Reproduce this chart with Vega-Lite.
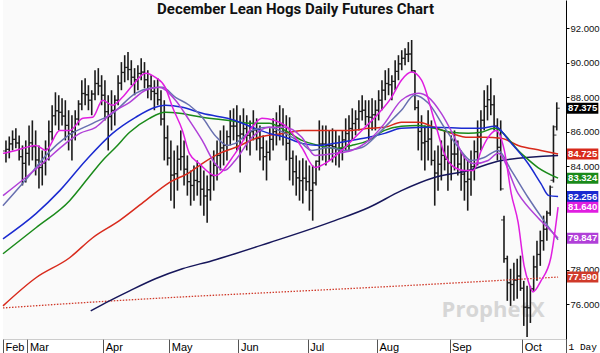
{
"$schema": "https://vega.github.io/schema/vega-lite/v6.json",
"width": 563, "height": 339, "padding": 0,
"background": "#ffffff",
"view": {"stroke": null, "fill": "#fafafa"},
"title": {"text": "December Lean Hogs Daily Futures Chart", "font": "Roboto", "fontSize": 15, "fontWeight": "bold", "color": "#111111", "anchor": "middle", "frame": "bounds", "offset": -17, "dx": -4},
"datasets": {
"bars": [
{"i":0,"o":84.9,"h":85.51,"l":84.23,"c":84.99},{"i":1,"o":84.99,"h":85.74,"l":84.47,"c":85.31},{"i":2,"o":85.31,"h":86.09,"l":84.93,"c":85.57},{"i":3,"o":85.57,"h":86.21,"l":85.05,"c":85.36},{"i":4,"o":85.36,"h":85.8,"l":84.35,"c":84.57},{"i":5,"o":84.57,"h":85.22,"l":82.9,"c":84.18},{"i":6,"o":84.18,"h":85.51,"l":83.07,"c":84.76},{"i":7,"o":84.76,"h":86.38,"l":84.06,"c":85.37},{"i":8,"o":85.37,"h":86.67,"l":84.35,"c":85.15},{"i":9,"o":85.15,"h":86.09,"l":83.48,"c":84.38},
{"i":10,"o":84.38,"h":85.22,"l":82.72,"c":83.94},{"i":11,"o":83.94,"h":84.93,"l":82.9,"c":84.2},{"i":12,"o":84.2,"h":85.51,"l":83.48,"c":85.0},{"i":13,"o":85.0,"h":86.67,"l":84.35,"c":86.02},{"i":14,"o":86.02,"h":87.55,"l":85.51,"c":86.94},{"i":15,"o":86.94,"h":88.3,"l":86.38,"c":87.23},{"i":16,"o":87.23,"h":88.13,"l":86.09,"c":87.14},{"i":17,"o":87.14,"h":87.95,"l":86.38,"c":86.92},{"i":18,"o":86.92,"h":87.84,"l":85.51,"c":86.38},{"i":19,"o":86.38,"h":87.26,"l":84.93,"c":85.88},
{"i":20,"o":85.88,"h":86.97,"l":84.35,"c":86.02},{"i":21,"o":86.02,"h":87.26,"l":85.51,"c":86.75},{"i":22,"o":86.75,"h":87.84,"l":86.38,"c":87.62},{"i":23,"o":87.62,"h":89.0,"l":87.26,"c":88.23},{"i":24,"o":88.23,"h":89.12,"l":87.55,"c":88.16},{"i":25,"o":88.16,"h":88.71,"l":87.26,"c":87.84},{"i":26,"o":87.84,"h":88.42,"l":86.97,"c":88.2},{"i":27,"o":88.2,"h":89.58,"l":87.84,"c":88.81},{"i":28,"o":88.81,"h":89.7,"l":88.13,"c":88.67},{"i":29,"o":88.67,"h":89.29,"l":87.55,"c":88.13},
{"i":30,"o":88.13,"h":89.0,"l":86.67,"c":87.18},{"i":31,"o":87.18,"h":88.13,"l":84.93,"c":86.89},{"i":32,"o":86.89,"h":88.42,"l":86.09,"c":87.25},{"i":33,"o":87.25,"h":88.13,"l":86.38,"c":87.84},{"i":34,"o":87.84,"h":89.29,"l":87.55,"c":88.83},{"i":35,"o":88.83,"h":90.05,"l":88.42,"c":89.45},{"i":36,"o":89.45,"h":90.45,"l":88.88,"c":89.74},{"i":37,"o":89.74,"h":90.63,"l":89.0,"c":89.62},{"i":38,"o":89.62,"h":90.16,"l":88.71,"c":89.17},{"i":39,"o":89.17,"h":89.7,"l":88.13,"c":89.03},
{"i":40,"o":89.03,"h":89.87,"l":88.42,"c":89.39},{"i":41,"o":89.39,"h":90.28,"l":89.0,"c":89.47},{"i":42,"o":89.47,"h":90.05,"l":88.53,"c":89.03},{"i":43,"o":89.03,"h":89.58,"l":87.95,"c":88.67},{"i":44,"o":88.67,"h":89.29,"l":87.84,"c":88.35},{"i":45,"o":88.35,"h":89.0,"l":87.26,"c":88.23},{"i":46,"o":88.23,"h":89.12,"l":87.55,"c":87.87},{"i":47,"o":87.87,"h":88.42,"l":86.38,"c":86.75},{"i":48,"o":86.75,"h":87.84,"l":84.35,"c":85.66},{"i":49,"o":85.66,"h":86.38,"l":84.06,"c":84.49},
{"i":50,"o":84.49,"h":85.51,"l":82.02,"c":83.5},{"i":51,"o":83.5,"h":84.93,"l":81.56,"c":83.58},{"i":52,"o":83.58,"h":85.22,"l":82.6,"c":84.42},{"i":53,"o":84.42,"h":86.09,"l":83.77,"c":84.57},{"i":54,"o":84.57,"h":85.51,"l":82.9,"c":83.84},{"i":55,"o":83.84,"h":84.64,"l":82.31,"c":83.12},{"i":56,"o":83.12,"h":83.77,"l":81.73,"c":82.9},{"i":57,"o":82.9,"h":84.06,"l":82.02,"c":83.19},{"i":58,"o":83.19,"h":84.35,"l":82.31,"c":83.12},{"i":59,"o":83.12,"h":84.06,"l":81.73,"c":82.68},
{"i":60,"o":82.68,"h":83.77,"l":81.15,"c":82.29},{"i":61,"o":82.29,"h":83.48,"l":80.74,"c":82.65},{"i":62,"o":82.65,"h":84.35,"l":82.02,"c":83.47},{"i":63,"o":83.47,"h":84.93,"l":82.6,"c":84.06},{"i":64,"o":84.06,"h":85.51,"l":83.19,"c":84.64},{"i":65,"o":84.64,"h":86.09,"l":83.77,"c":85.08},{"i":66,"o":85.08,"h":86.38,"l":84.06,"c":85.22},{"i":67,"o":85.22,"h":86.09,"l":84.35,"c":85.73},{"i":68,"o":85.73,"h":87.26,"l":85.22,"c":86.34},{"i":69,"o":86.34,"h":87.37,"l":85.51,"c":86.34},
{"i":70,"o":86.34,"h":87.55,"l":84.93,"c":85.78},{"i":71,"o":85.78,"h":86.97,"l":83.65,"c":85.88},{"i":72,"o":85.88,"h":87.37,"l":85.51,"c":86.2},{"i":73,"o":86.2,"h":86.97,"l":84.93,"c":85.81},{"i":74,"o":85.81,"h":86.67,"l":84.64,"c":86.02},{"i":75,"o":86.02,"h":87.26,"l":85.51,"c":86.12},{"i":76,"o":86.12,"h":86.79,"l":84.93,"c":85.62},{"i":77,"o":85.62,"h":86.38,"l":84.35,"c":85.08},{"i":78,"o":85.08,"h":85.8,"l":83.77,"c":84.57},{"i":79,"o":84.57,"h":85.51,"l":83.19,"c":84.82},
{"i":80,"o":84.82,"h":86.21,"l":84.35,"c":85.57},{"i":81,"o":85.57,"h":86.79,"l":84.93,"c":86.02},{"i":82,"o":86.02,"h":87.14,"l":85.22,"c":86.36},{"i":83,"o":86.36,"h":87.55,"l":85.51,"c":86.41},{"i":84,"o":86.41,"h":87.37,"l":85.22,"c":85.98},{"i":85,"o":85.98,"h":86.97,"l":84.35,"c":85.34},{"i":86,"o":85.34,"h":86.85,"l":83.19,"c":84.47},{"i":87,"o":84.47,"h":84.93,"l":82.9,"c":83.7},{"i":88,"o":83.7,"h":84.64,"l":82.31,"c":83.34},{"i":89,"o":83.34,"h":84.35,"l":82.02,"c":83.18},
{"i":90,"o":83.18,"h":84.47,"l":81.85,"c":83.32},{"i":91,"o":83.32,"h":84.35,"l":82.6,"c":83.12},{"i":92,"o":83.12,"h":84.06,"l":81.44,"c":82.61},{"i":93,"o":82.61,"h":84.06,"l":80.86,"c":83.05},{"i":94,"o":83.05,"h":84.35,"l":82.9,"c":84.3},{"i":95,"o":84.3,"h":86.67,"l":83.77,"c":85.3},{"i":96,"o":85.3,"h":86.38,"l":84.35,"c":85.3},{"i":97,"o":85.3,"h":86.38,"l":84.06,"c":85.22},{"i":98,"o":85.22,"h":86.09,"l":84.35,"c":85.22},{"i":99,"o":85.22,"h":86.21,"l":84.23,"c":85.15},
{"i":100,"o":85.15,"h":86.09,"l":84.06,"c":84.98},{"i":101,"o":84.98,"h":85.8,"l":83.94,"c":85.05},{"i":102,"o":85.05,"h":86.09,"l":84.35,"c":85.54},{"i":103,"o":85.54,"h":86.79,"l":84.93,"c":85.91},{"i":104,"o":85.91,"h":86.97,"l":84.93,"c":86.2},{"i":105,"o":86.2,"h":87.37,"l":85.51,"c":86.49},{"i":106,"o":86.49,"h":87.26,"l":85.8,"c":86.75},{"i":107,"o":86.75,"h":87.84,"l":86.09,"c":87.19},{"i":108,"o":87.19,"h":88.13,"l":86.67,"c":87.26},{"i":109,"o":87.26,"h":87.84,"l":86.38,"c":86.89},
{"i":110,"o":86.89,"h":87.84,"l":85.51,"c":86.85},{"i":111,"o":86.85,"h":87.95,"l":86.09,"c":87.0},{"i":112,"o":87.0,"h":87.84,"l":86.09,"c":87.26},{"i":113,"o":87.26,"h":88.42,"l":86.67,"c":87.84},{"i":114,"o":87.84,"h":89.0,"l":87.26,"c":88.42},{"i":115,"o":88.42,"h":89.58,"l":87.84,"c":88.81},{"i":116,"o":88.81,"h":89.7,"l":88.13,"c":88.74},{"i":117,"o":88.74,"h":89.29,"l":87.84,"c":88.93},{"i":118,"o":88.93,"h":90.16,"l":88.42,"c":89.51},{"i":119,"o":89.51,"h":90.45,"l":89.0,"c":89.95},
{"i":120,"o":89.95,"h":90.74,"l":89.58,"c":90.27},{"i":121,"o":90.27,"h":90.86,"l":89.87,"c":90.5},{"i":122,"o":90.5,"h":91.21,"l":90.05,"c":90.52},{"i":123,"o":90.52,"h":91.33,"l":89.47,"c":89.55},{"i":124,"o":89.55,"h":89.58,"l":87.26,"c":87.41},{"i":125,"o":87.41,"h":87.84,"l":84.93,"c":86.03},{"i":126,"o":86.03,"h":86.97,"l":84.35,"c":85.37},{"i":127,"o":85.37,"h":86.38,"l":83.77,"c":85.45},{"i":128,"o":85.45,"h":87.26,"l":84.35,"c":85.59},{"i":129,"o":85.59,"h":86.67,"l":84.06,"c":84.35},
{"i":130,"o":84.35,"h":84.93,"l":81.73,"c":83.62},{"i":131,"o":83.62,"h":85.22,"l":82.6,"c":84.13},{"i":132,"o":84.13,"h":85.51,"l":83.19,"c":84.64},{"i":133,"o":84.64,"h":86.09,"l":83.77,"c":84.42},{"i":134,"o":84.42,"h":85.22,"l":82.6,"c":84.21},{"i":135,"o":84.21,"h":85.8,"l":83.19,"c":84.72},{"i":136,"o":84.72,"h":86.09,"l":83.77,"c":84.72},{"i":137,"o":84.72,"h":85.51,"l":83.48,"c":84.14},{"i":138,"o":84.14,"h":84.93,"l":82.6,"c":83.55},{"i":139,"o":83.55,"h":84.64,"l":82.02,"c":83.12},
{"i":140,"o":83.12,"h":84.35,"l":81.44,"c":83.26},{"i":141,"o":83.26,"h":84.93,"l":82.31,"c":83.99},{"i":142,"o":83.99,"h":85.51,"l":83.19,"c":84.86},{"i":143,"o":84.86,"h":86.67,"l":84.06,"c":85.74},{"i":144,"o":85.74,"h":87.26,"l":84.93,"c":86.68},{"i":145,"o":86.68,"h":88.42,"l":86.09,"c":87.48},{"i":146,"o":87.48,"h":88.71,"l":86.67,"c":87.87},{"i":147,"o":87.87,"h":89.12,"l":86.97,"c":87.58},{"i":148,"o":87.58,"h":88.13,"l":86.09,"c":86.34},{"i":149,"o":86.34,"h":86.79,"l":84.35,"c":85.11},
{"i":150,"o":85.11,"h":86.67,"l":82.6,"c":82.7},{"i":151,"o":80.9,"h":81.15,"l":78.42,"c":78.66},{"i":152,"o":78.66,"h":78.83,"l":76.21,"c":77.26},{"i":153,"o":77.26,"h":78.07,"l":75.92,"c":77.16},{"i":154,"o":77.16,"h":78.42,"l":76.21,"c":77.41},{"i":155,"o":77.41,"h":78.65,"l":76.33,"c":77.65},{"i":156,"o":77.65,"h":78.83,"l":76.79,"c":76.94},{"i":157,"o":76.94,"h":77.37,"l":74.76,"c":75.84},{"i":158,"o":75.84,"h":77.08,"l":74.12,"c":75.81},{"i":159,"o":75.81,"h":77.08,"l":74.93,"c":76.91},
{"i":160,"o":76.91,"h":78.83,"l":76.79,"c":78.18},{"i":161,"o":78.18,"h":79.7,"l":77.37,"c":78.9},{"i":162,"o":78.9,"h":80.28,"l":78.24,"c":79.7},{"i":163,"o":79.7,"h":81.15,"l":79.12,"c":80.36},{"i":164,"o":80.36,"h":81.44,"l":79.7,"c":81.3},{"i":165,"o":81.3,"h":82.9,"l":81.15,"c":82.8},{"i":166,"o":83.2,"h":86.38,"l":83.07,"c":85.82},{"i":167,"o":86.3,"h":87.72,"l":86.09,"c":87.375}
],
"ma": [
{"s":"M7","i":25.7,"v":75.63},{"s":"M7","i":31.4,"v":76.21},{"s":"M7","i":37.5,"v":76.79},{"s":"M7","i":45.3,"v":77.49},{"s":"M7","i":53.5,"v":78.07},{"s":"M7","i":62.5,"v":78.54},{"s":"M7","i":79.8,"v":79.58},{"s":"M7","i":99.7,"v":80.86},{"s":"M7","i":110.0,"v":81.62},{"s":"M7","i":119.9,"v":82.6},{"s":"M7","i":129.9,"v":83.36},{"s":"M7","i":140.2,"v":83.77},{"s":"M7","i":150.2,"v":84.35},{"s":"M7","i":167.4,"v":84.64},
{"s":"M6","i":-0.9,"v":75.92},{"s":"M6","i":9.1,"v":77.55},{"s":"M6","i":19.3,"v":78.71},{"s":"M6","i":26.3,"v":79.87},{"s":"M6","i":34.4,"v":80.86},{"s":"M6","i":42.3,"v":82.02},{"s":"M6","i":49.5,"v":83.07},{"s":"M6","i":55.6,"v":83.65},{"s":"M6","i":59.5,"v":84.17},{"s":"M6","i":64.7,"v":84.76},{"s":"M6","i":69.5,"v":85.1},{"s":"M6","i":76.7,"v":85.69},{"s":"M6","i":84.6,"v":85.92},{"s":"M6","i":89.7,"v":86.09},{"s":"M6","i":99.7,"v":86.09},{"s":"M6","i":104.8,"v":86.09},{"s":"M6","i":110.0,"v":86.21},{"s":"M6","i":114.8,"v":86.27},{"s":"M6","i":119.9,"v":86.56},{"s":"M6","i":125.1,"v":86.56},{"s":"M6","i":129.9,"v":86.27},{"s":"M6","i":135.0,"v":85.92},{"s":"M6","i":140.2,"v":85.69},{"s":"M6","i":145.0,"v":85.69},{"s":"M6","i":150.2,"v":85.63},{"s":"M6","i":155.3,"v":85.22},{"s":"M6","i":162.2,"v":84.93},{"s":"M6","i":167.4,"v":84.725},
{"s":"M5","i":-0.9,"v":78.94},{"s":"M5","i":9.1,"v":80.45},{"s":"M5","i":19.3,"v":82.02},{"s":"M5","i":24.8,"v":83.3},{"s":"M5","i":29.3,"v":84.35},{"s":"M5","i":33.2,"v":85.1},{"s":"M5","i":37.5,"v":85.98},{"s":"M5","i":43.5,"v":86.79},{"s":"M5","i":48.3,"v":87.14},{"s":"M5","i":52.6,"v":87.08},{"s":"M5","i":59.5,"v":86.85},{"s":"M5","i":67.7,"v":86.67},{"s":"M5","i":74.6,"v":86.5},{"s":"M5","i":79.8,"v":86.5},{"s":"M5","i":84.6,"v":86.09},{"s":"M5","i":89.7,"v":85.51},{"s":"M5","i":94.9,"v":85.22},{"s":"M5","i":99.7,"v":85.05},{"s":"M5","i":104.8,"v":85.22},{"s":"M5","i":110.0,"v":85.51},{"s":"M5","i":114.8,"v":86.09},{"s":"M5","i":119.9,"v":86.33},{"s":"M5","i":125.1,"v":86.38},{"s":"M5","i":129.9,"v":86.21},{"s":"M5","i":135.0,"v":85.98},{"s":"M5","i":140.2,"v":85.92},{"s":"M5","i":144.1,"v":85.98},{"s":"M5","i":148.0,"v":86.21},{"s":"M5","i":156.2,"v":84.76},{"s":"M5","i":161.3,"v":83.94},{"s":"M5","i":167.4,"v":83.324},
{"s":"M4","i":-0.9,"v":79.81},{"s":"M4","i":9.1,"v":81.27},{"s":"M4","i":16.3,"v":82.6},{"s":"M4","i":24.2,"v":84.35},{"s":"M4","i":32.3,"v":85.92},{"s":"M4","i":39.3,"v":86.85},{"s":"M4","i":45.3,"v":87.43},{"s":"M4","i":48.3,"v":87.55},{"s":"M4","i":53.5,"v":87.43},{"s":"M4","i":59.5,"v":87.08},{"s":"M4","i":69.5,"v":86.67},{"s":"M4","i":74.6,"v":86.27},{"s":"M4","i":79.8,"v":85.92},{"s":"M4","i":84.6,"v":85.69},{"s":"M4","i":89.7,"v":85.34},{"s":"M4","i":94.9,"v":85.22},{"s":"M4","i":99.7,"v":85.34},{"s":"M4","i":104.8,"v":85.51},{"s":"M4","i":110.0,"v":85.69},{"s":"M4","i":114.8,"v":85.92},{"s":"M4","i":119.9,"v":86.21},{"s":"M4","i":129.9,"v":86.27},{"s":"M4","i":140.2,"v":86.21},{"s":"M4","i":144.1,"v":86.21},{"s":"M4","i":148.0,"v":86.33},{"s":"M4","i":153.2,"v":85.34},{"s":"M4","i":158.3,"v":84.17},{"s":"M4","i":162.2,"v":83.01},{"s":"M4","i":164.6,"v":82.31},{"s":"M4","i":167.4,"v":82.256},
{"s":"M3","i":-0.9,"v":81.73},{"s":"M3","i":6.6,"v":83.36},{"s":"M3","i":12.7,"v":84.76},{"s":"M3","i":18.1,"v":85.69},{"s":"M3","i":26.3,"v":86.5},{"s":"M3","i":32.3,"v":87.08},{"s":"M3","i":39.3,"v":88.24},{"s":"M3","i":43.5,"v":88.53},{"s":"M3","i":47.4,"v":88.59},{"s":"M3","i":51.4,"v":88.01},{"s":"M3","i":55.6,"v":87.55},{"s":"M3","i":59.5,"v":86.85},{"s":"M3","i":63.4,"v":85.8},{"s":"M3","i":67.1,"v":85.22},{"s":"M3","i":69.5,"v":85.34},{"s":"M3","i":74.6,"v":86.09},{"s":"M3","i":79.8,"v":86.27},{"s":"M3","i":84.6,"v":85.92},{"s":"M3","i":89.7,"v":85.34},{"s":"M3","i":92.7,"v":84.93},{"s":"M3","i":97.9,"v":85.1},{"s":"M3","i":102.7,"v":84.93},{"s":"M3","i":107.9,"v":85.1},{"s":"M3","i":113.0,"v":85.92},{"s":"M3","i":117.8,"v":86.85},{"s":"M3","i":119.9,"v":87.26},{"s":"M3","i":123.9,"v":88.13},{"s":"M3","i":128.1,"v":87.66},{"s":"M3","i":132.9,"v":86.27},{"s":"M3","i":137.2,"v":85.1},{"s":"M3","i":141.1,"v":84.35},{"s":"M3","i":145.0,"v":84.52},{"s":"M3","i":149.2,"v":84.93},{"s":"M3","i":153.2,"v":83.77},{"s":"M3","i":158.3,"v":82.2},{"s":"M3","i":163.1,"v":80.86},{"s":"M3","i":167.4,"v":79.75},
{"s":"M2","i":-0.9,"v":82.31},{"s":"M2","i":6.0,"v":83.36},{"s":"M2","i":12.1,"v":84.35},{"s":"M2","i":18.1,"v":85.34},{"s":"M2","i":22.4,"v":85.92},{"s":"M2","i":27.2,"v":86.27},{"s":"M2","i":32.3,"v":87.14},{"s":"M2","i":37.5,"v":87.72},{"s":"M2","i":42.3,"v":88.42},{"s":"M2","i":46.5,"v":88.59},{"s":"M2","i":51.4,"v":87.84},{"s":"M2","i":55.6,"v":86.67},{"s":"M2","i":59.5,"v":85.51},{"s":"M2","i":63.4,"v":84.17},{"s":"M2","i":66.2,"v":83.77},{"s":"M2","i":69.5,"v":84.35},{"s":"M2","i":74.6,"v":85.69},{"s":"M2","i":79.8,"v":86.27},{"s":"M2","i":84.6,"v":86.27},{"s":"M2","i":89.7,"v":85.69},{"s":"M2","i":93.7,"v":84.64},{"s":"M2","i":99.7,"v":84.76},{"s":"M2","i":104.8,"v":84.93},{"s":"M2","i":110.0,"v":85.51},{"s":"M2","i":114.8,"v":86.5},{"s":"M2","i":119.9,"v":87.84},{"s":"M2","i":125.1,"v":88.24},{"s":"M2","i":128.1,"v":88.01},{"s":"M2","i":132.0,"v":87.08},{"s":"M2","i":136.0,"v":85.69},{"s":"M2","i":139.0,"v":84.52},{"s":"M2","i":142.0,"v":84.17},{"s":"M2","i":146.2,"v":84.35},{"s":"M2","i":149.2,"v":84.76},{"s":"M2","i":155.3,"v":82.43},{"s":"M2","i":161.3,"v":81.03},{"s":"M2","i":165.2,"v":80.28},{"s":"M2","i":167.4,"v":79.85},
{"s":"M1","i":-0.9,"v":84.76},{"s":"M1","i":3.0,"v":84.93},{"s":"M1","i":9.1,"v":85.22},{"s":"M1","i":12.1,"v":84.93},{"s":"M1","i":16.3,"v":86.09},{"s":"M1","i":19.3,"v":86.09},{"s":"M1","i":23.3,"v":86.79},{"s":"M1","i":26.3,"v":86.85},{"s":"M1","i":29.3,"v":87.84},{"s":"M1","i":32.3,"v":87.55},{"s":"M1","i":35.3,"v":88.01},{"s":"M1","i":38.4,"v":88.71},{"s":"M1","i":42.3,"v":89.41},{"s":"M1","i":45.3,"v":89.17},{"s":"M1","i":48.3,"v":88.59},{"s":"M1","i":50.5,"v":87.43},{"s":"M1","i":53.5,"v":86.09},{"s":"M1","i":55.6,"v":84.76},{"s":"M1","i":58.6,"v":84.17},{"s":"M1","i":63.4,"v":83.48},{"s":"M1","i":69.5,"v":84.76},{"s":"M1","i":74.6,"v":86.27},{"s":"M1","i":77.6,"v":86.79},{"s":"M1","i":84.6,"v":86.38},{"s":"M1","i":89.7,"v":85.1},{"s":"M1","i":93.7,"v":83.94},{"s":"M1","i":96.7,"v":84.17},{"s":"M1","i":101.8,"v":84.93},{"s":"M1","i":107.9,"v":86.09},{"s":"M1","i":113.0,"v":87.08},{"s":"M1","i":116.9,"v":88.01},{"s":"M1","i":119.9,"v":89.0},{"s":"M1","i":123.0,"v":89.47},{"s":"M1","i":126.0,"v":89.0},{"s":"M1","i":129.9,"v":86.67},{"s":"M1","i":132.9,"v":84.76},{"s":"M1","i":136.0,"v":83.94},{"s":"M1","i":139.0,"v":83.77},{"s":"M1","i":141.7,"v":83.77},{"s":"M1","i":144.1,"v":84.93},{"s":"M1","i":146.2,"v":85.69},{"s":"M1","i":148.6,"v":86.09},{"s":"M1","i":151.1,"v":84.93},{"s":"M1","i":153.2,"v":82.43},{"s":"M1","i":155.3,"v":80.74},{"s":"M1","i":157.1,"v":78.24},{"s":"M1","i":158.6,"v":77.2},{"s":"M1","i":159.8,"v":76.73},{"s":"M1","i":162.2,"v":77.37},{"s":"M1","i":165.2,"v":78.71},{"s":"M1","i":167.4,"v":81.64}
],
"dot": [
{"s":"M8","i":-0.9,"v":75.8},{"s":"M8","i":17.2,"v":76.03},{"s":"M8","i":59.5,"v":76.5},{"s":"M8","i":77.6,"v":76.67},{"s":"M8","i":119.9,"v":77.08},{"s":"M8","i":167.4,"v":77.59}
],
"tags": [
{"s":"Last","v":87.375},{"s":"M6","v":84.725},{"s":"M5","v":83.324},{"s":"M4","v":82.256},{"s":"M1","v":81.64},{"s":"M2","v":79.847},{"s":"M8","v":77.59}
],
"marks": [
{"t":"ProphetX","i":147.7,"v":75.69}
]
},
"layer": [
{
"data": {"name": "marks"},
"mark": {"type": "text", "font": "Open Sans", "fontSize": 22, "fontWeight": "bold", "fill": "#d6d6d6", "align": "center", "baseline": "middle"},
"encoding": {
"x": {"field": "i", "type": "quantitative", "title": null, "scale": {"domain": [-0.9, 169.8], "nice": false, "zero": false},
 "axis": {"title": null, "orient": "bottom", "grid": false, "values": [-0.9, 6.5, 29.5, 49.5, 70.5, 91.5, 112.5, 134.5, 156.5, 169.8],
  "labelExpr": "datum.value < 0 ? 'Feb' : datum.value < 10 ? 'Mar' : datum.value < 40 ? 'Apr' : datum.value < 60 ? 'May' : datum.value < 80 ? 'Jun' : datum.value < 100 ? 'Jul' : datum.value < 120 ? 'Aug' : datum.value < 140 ? 'Sep' : datum.value < 160 ? 'Oct' : '1 Day'",
  "labelAlign": "left", "labelBaseline": "top", "labelOffset": 2, "labelPadding": -12, "labelBound": false, "labelOverlap": false, "labelFlush": false,
  "labelFont": {"condition": {"test": "datum.value > 165", "value": "Liberation Mono"}, "value": "Liberation Sans"},
  "labelFontSize": {"condition": {"test": "datum.value > 165", "value": 9.5}, "value": 11}, "labelColor": "#000000", "tickSize": 14, "tickColor": "#555555", "tickWidth": 1,
  "domainColor": "#999999", "domainDash": [1, 1]}},
"y": {"field": "v", "type": "quantitative", "title": null, "scale": {"domain": [74.0, 93.65], "nice": false, "zero": false},
 "axis": {"title": null, "orient": "right", "grid": false, "values": [76, 78, 84, 86, 88, 90, 92], "format": ".3f",
  "labelFont": "Liberation Sans", "labelFontSize": 9.5, "labelColor": "#111111", "labelPadding": 1, "tickSize": 3, "tickColor": "#000000", "domainColor": "#000000"}},
"text": {"field": "t"}
}
},
{
"data": {"name": "bars"},
"mark": {"type": "rule", "strokeWidth": 1.6, "color": "#1a1a1a"},
"encoding": {
"x": {"field": "i", "type": "quantitative", "title": null},
"y": {"field": "h", "type": "quantitative", "title": null},
"y2": {"field": "l"}
}
},
{
"data": {"name": "bars"},
"mark": {"type": "tick", "orient": "horizontal", "size": 3, "thickness": 1.2, "xOffset": -1.5, "color": "#1a1a1a"},
"encoding": {
"x": {"field": "i", "type": "quantitative", "title": null},
"y": {"field": "o", "type": "quantitative", "title": null}
}
},
{
"data": {"name": "bars"},
"mark": {"type": "tick", "orient": "horizontal", "size": 3, "thickness": 1.2, "xOffset": 1.5, "color": "#1a1a1a"},
"encoding": {
"x": {"field": "i", "type": "quantitative", "title": null},
"y": {"field": "c", "type": "quantitative", "title": null}
}
},
{
"data": {"name": "dot"},
"mark": {"type": "line", "strokeWidth": 1.3, "strokeDash": [1.5, 1.5], "interpolate": "monotone"},
"encoding": {
"x": {"field": "i", "type": "quantitative", "title": null},
"y": {"field": "v", "type": "quantitative", "title": null},
"color": {"field": "s", "type": "nominal", "legend": null,
 "scale": {"domain": ["M1","M2","M3","M4","M5","M6","M7","M8","Last"], "range": ["#e01ee0","#b040d8","#6870b0","#1a2ad0","#1a8a1a","#d82a1c","#16165a","#d03a2a","#000000"]}}
}
},
{
"data": {"name": "ma"},
"mark": {"type": "line", "strokeWidth": 1.5, "interpolate": "monotone"},
"encoding": {
"x": {"field": "i", "type": "quantitative", "title": null},
"y": {"field": "v", "type": "quantitative", "title": null},
"color": {"field": "s", "type": "nominal", "legend": null},
"order": {"field": "i", "type": "quantitative"}
}
},
{
"data": {"name": "tags"},
"mark": {"type": "rect", "yOffset": -5.5, "y2Offset": 5.5},
"encoding": {
"x": {"datum": 170.1, "type": "quantitative", "title": null},
"x2": {"datum": 179.6},
"y": {"field": "v", "type": "quantitative", "title": null},
"y2": {"field": "v"},
"color": {"field": "s", "type": "nominal", "legend": null}
}
},
{
"data": {"name": "tags"},
"mark": {"type": "text", "font": "Liberation Sans", "fontSize": 9.5, "fontWeight": "bold", "fill": "#ffffff", "align": "center", "baseline": "middle"},
"encoding": {
"x": {"datum": 174.85, "type": "quantitative", "title": null},
"y": {"field": "v", "type": "quantitative", "title": null},
"text": {"field": "v", "type": "quantitative", "format": ".3f"}
}
}
]
}
